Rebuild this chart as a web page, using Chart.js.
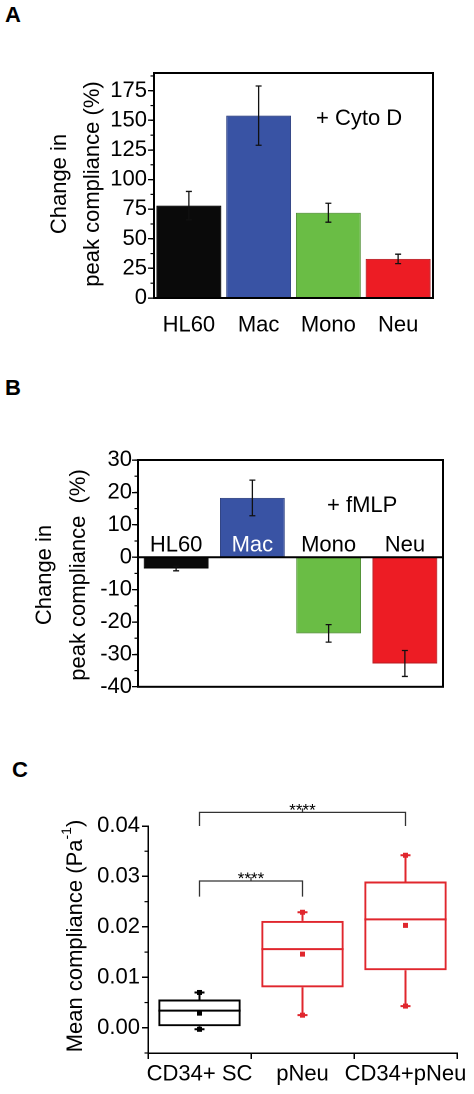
<!DOCTYPE html>
<html>
<head>
<meta charset="utf-8">
<script src="https://cdn.jsdelivr.net/npm/chart.js@4"></script>
<style>
  body { margin: 0; background: #fff; width: 474px; height: 1094px; position: relative; overflow: hidden; font-family: "Liberation Sans", Arial, sans-serif; }
  canvas { position: absolute; left: 0; }
  .lbl { position: absolute; font-weight: bold; font-size: 22px; }
</style>
</head>
<body>
<div class="lbl" style="left:5px;top:2px">A</div>
<div class="lbl" style="left:5px;top:375px">B</div>
<div class="lbl" style="left:12px;top:757px">C</div>
<canvas id="chartA" style="top:0px"></canvas>
<canvas id="chartB" style="top:370px"></canvas>
<canvas id="chartC" style="top:700px"></canvas>
<script>
// Painel A: + Cyto D
const cellTypes = ['HL60', 'Mac', 'Mono', 'Neu'];
const cytoValues = [78, 154, 72, 33];
const cytoErrors = [12, 25, 8, 4];
const cytoTicks = [0, 25, 50, 75, 100, 125, 150, 175];
// Painel B: + fMLP
const fmlpValues = [-3.5, 18.3, -23.5, -32.8];
const fmlpErrors = [0.7, 5.5, 2.7, 4];
// Painel C: boxplots
const groupsC = ['CD34+ SC', 'pNeu', 'CD34+pNeu'];
const q1C = [0.0003, 0.0080, 0.0114];
const q3C = [0.0056, 0.0212, 0.0290];
const medianC = [0.0034, 0.0156, 0.0215];
const meanC = [0.0029, 0.0146, 0.0203];
const whiskerLowC = [-0.0003, 0.0025, 0.0043];
const whiskerHighC = [0.0070, 0.0229, 0.0342];
const complianceTicks = [0, 0.01, 0.02, 0.03, 0.04];

const barColors = ['#0a0a0a', '#3953a4', '#6abd45', '#ed1c24'];
const boxColors = ['#000000', '#e0262d', '#e0262d'];
const FONT = '"Liberation Sans", Arial, sans-serif';
const TS = 22; // tamanho das fontes principais
Chart.defaults.font.family = FONT;
Chart.defaults.color = '#000';
Chart.defaults.animation = false;
Chart.defaults.responsive = false;
Chart.defaults.devicePixelRatio = 2;

function setupCanvas(id, h) {
    const c = document.getElementById(id);
    c.width = 474; c.height = h;
    c.style.width = '474px'; c.style.height = h + 'px';
    return c.getContext('2d');
}

function rotatedText(ctx, lines, yc, size) {
    ctx.save();
    ctx.font = size + 'px ' + FONT;
    ctx.fillStyle = '#000';
    ctx.textAlign = 'center';
    ctx.textBaseline = 'middle';
    lines.forEach(l => {
        ctx.save();
        ctx.translate(l.x, yc);
        ctx.rotate(-Math.PI / 2);
        ctx.fillText(l.text, 0, 0);
        ctx.restore();
    });
    ctx.restore();
}

function minorTicks(ctx, scale, step, from, x) {
    ctx.save();
    ctx.strokeStyle = '#000'; ctx.lineWidth = 1.2;
    for (let v = from; v <= scale.max + 1e-9; v += step) {
        const y = scale.getPixelForValue(v);
        ctx.beginPath(); ctx.moveTo(x, y); ctx.lineTo(x - 3.5, y); ctx.stroke();
    }
    ctx.restore();
}

function errorBars(ctx, chart, values, errors) {
    const meta = chart.getDatasetMeta(0);
    const y = chart.scales.y;
    ctx.save();
    ctx.strokeStyle = '#111'; ctx.lineWidth = 1.3;
    meta.data.forEach((el, i) => {
        const top = y.getPixelForValue(values[i] + errors[i]);
        const bot = y.getPixelForValue(values[i] - errors[i]);
        ctx.beginPath();
        ctx.moveTo(el.x, top); ctx.lineTo(el.x, bot);
        ctx.moveTo(el.x - 3, top); ctx.lineTo(el.x + 3, top);
        ctx.moveTo(el.x - 3, bot); ctx.lineTo(el.x + 3, bot);
        ctx.stroke();
    });
    ctx.restore();
}

// ---------- Painel A ----------
new Chart(setupCanvas('chartA', 360), {
    type: 'bar',
    data: {
        labels: cellTypes,
        datasets: [{
            data: cytoValues,
            backgroundColor: barColors,
            borderColor: ['#000', '#2c3f80', '#4f8f33', '#b81a20'],
            borderWidth: 1,
            barPercentage: 1,
            categoryPercentage: 0.93
        }]
    },
    options: {
        layout: { padding: { top: 73, right: 41 } },
        plugins: { legend: { display: false }, tooltip: { enabled: false } },
        scales: {
            x: {
                grid: { display: false },
                border: { display: false },
                ticks: { font: { size: TS }, padding: 6, maxRotation: 0 },
                afterFit: s => { s.height = 62; }
            },
            y: {
                min: 0, max: 190,
                afterBuildTicks: s => { s.ticks = cytoTicks.map(v => ({ value: v })); },
                ticks: { font: { size: TS }, padding: 1 },
                grid: { drawOnChartArea: false, tickLength: 6, color: '#000', lineWidth: 1.3 },
                border: { display: false },
                afterFit: s => { s.width = 154; }
            }
        }
    },
    plugins: [{
        id: 'decorA',
        afterDatasetsDraw(chart) {
            const ctx = chart.ctx, a = chart.chartArea;
            errorBars(ctx, chart, cytoValues, cytoErrors);
            minorTicks(ctx, chart.scales.y, 12.5, 12.5, a.left);
            ctx.save();
            ctx.strokeStyle = '#000'; ctx.lineWidth = 2;
            ctx.strokeRect(a.left, a.top, a.right - a.left, a.bottom - a.top);
            ctx.font = TS + 'px ' + FONT;
            ctx.fillStyle = '#000';
            ctx.fillText('+ Cyto D', 316, 125);
            ctx.restore();
            rotatedText(ctx, [{ text: 'Change in', x: 60 }, { text: 'peak compliance (%)', x: 93 }], 184, TS);
        }
    }]
});

// ---------- Painel B ----------
new Chart(setupCanvas('chartB', 330), {
    type: 'bar',
    data: {
        labels: cellTypes,
        datasets: [{
            data: fmlpValues,
            backgroundColor: barColors,
            borderColor: ['#000', '#2c3f80', '#4f8f33', '#b81a20'],
            borderWidth: 1,
            barPercentage: 1,
            categoryPercentage: 0.85
        }]
    },
    options: {
        layout: { padding: { top: 90, right: 31 } },
        plugins: { legend: { display: false }, tooltip: { enabled: false } },
        scales: {
            x: {
                grid: { display: false },
                border: { display: false },
                ticks: { display: false },
                afterFit: s => { s.height = 11; }
            },
            y: {
                min: -40, max: 30,
                ticks: { stepSize: 10, font: { size: TS }, padding: 0 },
                grid: { drawOnChartArea: false, tickLength: 6, color: '#000', lineWidth: 1.3 },
                border: { display: false },
                afterFit: s => { s.width = 138; }
            }
        }
    },
    plugins: [{
        id: 'decorB',
        afterDatasetsDraw(chart) {
            const ctx = chart.ctx, a = chart.chartArea, y = chart.scales.y;
            errorBars(ctx, chart, fmlpValues, fmlpErrors);
            minorTicks(ctx, y, 5, -35, a.left);
            const y0 = y.getPixelForValue(0);
            ctx.save();
            ctx.strokeStyle = '#000'; ctx.lineWidth = 2;
            ctx.strokeRect(a.left, a.top, a.right - a.left, a.bottom - a.top);
            ctx.beginPath(); ctx.moveTo(a.left, y0); ctx.lineTo(a.right, y0); ctx.stroke();
            ctx.font = TS + 'px ' + FONT;
            ctx.textAlign = 'center';
            ctx.textBaseline = 'bottom';
            chart.getDatasetMeta(0).data.forEach((el, i) => {
                ctx.fillStyle = i === 1 ? '#fff' : '#000';
                ctx.fillText(cellTypes[i], el.x, y0 - 1);
            });
            ctx.textAlign = 'left';
            ctx.textBaseline = 'alphabetic';
            ctx.fillStyle = '#000';
            ctx.fillText('+ fMLP', 327, 142);
            ctx.restore();
            rotatedText(ctx, [{ text: 'Change in', x: 45 }, { text: 'peak compliance  (%)', x: 79 }], 205, TS);
        }
    }]
});

// ---------- Painel C ----------
new Chart(setupCanvas('chartC', 394), {
    type: 'bar',
    data: {
        labels: groupsC,
        datasets: [{
            data: q1C.map((q, i) => [q, q3C[i]]),
            backgroundColor: 'rgba(255,255,255,0)',
            borderColor: boxColors,
            borderWidth: 2,
            borderSkipped: false,
            barPercentage: 0.8,
            categoryPercentage: 1
        }]
    },
    options: {
        layout: { padding: { top: 126, right: 17 } },
        plugins: { legend: { display: false }, tooltip: { enabled: false } },
        scales: {
            x: {
                grid: { drawOnChartArea: false, tickLength: 6, color: '#000', lineWidth: 1.5 },
                border: { color: '#000', width: 1.5 },
                ticks: { font: { size: TS }, padding: 2, maxRotation: 0, minRotation: 0, autoSkip: false },
                afterFit: s => { s.height = 41; }
            },
            y: {
                min: -0.005, max: 0.04,
                afterBuildTicks: s => { s.ticks = complianceTicks.map(v => ({ value: v })); },
                ticks: { font: { size: TS }, padding: 2, callback: v => v.toFixed(2) },
                grid: { drawOnChartArea: false, tickLength: 6, color: '#000', lineWidth: 1.5 },
                border: { color: '#000', width: 1.5 },
                afterFit: s => { s.width = 148; }
            }
        }
    },
    plugins: [{
        id: 'decorC',
        afterDatasetsDraw(chart) {
            const ctx = chart.ctx, a = chart.chartArea, y = chart.scales.y;
            const meta = chart.getDatasetMeta(0);
            minorTicks(ctx, y, 0.01, -0.005, a.left);
            ctx.save();
            meta.data.forEach((el, i) => {
                const x = el.x, hw = el.width / 2;
                ctx.strokeStyle = boxColors[i]; ctx.fillStyle = boxColors[i];
                ctx.lineWidth = 2;
                const yq1 = y.getPixelForValue(q1C[i]), yq3 = y.getPixelForValue(q3C[i]);
                const ylo = y.getPixelForValue(whiskerLowC[i]), yhi = y.getPixelForValue(whiskerHighC[i]);
                const ym = y.getPixelForValue(medianC[i]);
                ctx.beginPath();
                ctx.moveTo(x - hw, ym); ctx.lineTo(x + hw, ym);
                ctx.moveTo(x, yq3); ctx.lineTo(x, yhi);
                ctx.moveTo(x, yq1); ctx.lineTo(x, ylo);
                ctx.moveTo(x - 5, yhi); ctx.lineTo(x + 5, yhi);
                ctx.moveTo(x - 5, ylo); ctx.lineTo(x + 5, ylo);
                ctx.stroke();
                ctx.fillRect(x - 2.5, yhi - 2.5, 5, 5);
                ctx.fillRect(x - 2.5, ylo - 2.5, 5, 5);
                const ymean = y.getPixelForValue(meanC[i]);
                ctx.fillRect(x - 2.5, ymean - 2.5, 5, 5);
            });
            // brackets de significancia
            const bracket = (i, j, level, legL, legR) => {
                const xa = meta.data[i].x, xb = meta.data[j].x;
                const yl = y.getPixelForValue(level);
                ctx.strokeStyle = '#333'; ctx.lineWidth = 1.3;
                ctx.beginPath();
                ctx.moveTo(xa, y.getPixelForValue(legL)); ctx.lineTo(xa, yl);
                ctx.lineTo(xb, yl); ctx.lineTo(xb, y.getPixelForValue(legR));
                ctx.moveTo((xa + xb) / 2, yl); ctx.lineTo((xa + xb) / 2, yl - 4);
                ctx.stroke();
                ctx.fillStyle = '#000';
                ctx.font = '17px ' + FONT;
                ctx.textAlign = 'center';
                ctx.textBaseline = 'alphabetic';
                ctx.fillText('****', (xa + xb) / 2, yl + 3);
            };
            bracket(0, 2, 0.0427, 0.04, 0.04);
            bracket(0, 1, 0.0291, 0.026, 0.026);
            ctx.restore();
            // titulo do eixo com sobrescrito
            ctx.save();
            ctx.translate(76, 236);
            ctx.rotate(-Math.PI / 2);
            ctx.fillStyle = '#000';
            ctx.textBaseline = 'middle';
            ctx.font = TS + 'px ' + FONT;
            const main = 'Mean compliance (Pa';
            const w1 = ctx.measureText(main).width;
            ctx.font = '14px ' + FONT;
            const w2 = ctx.measureText('-1').width;
            ctx.font = TS + 'px ' + FONT;
            const w3 = ctx.measureText(')').width;
            const sx = -(w1 + w2 + w3) / 2;
            ctx.fillText(main, sx, 0);
            ctx.font = '14px ' + FONT;
            ctx.fillText('-1', sx + w1, -9);
            ctx.font = TS + 'px ' + FONT;
            ctx.fillText(')', sx + w1 + w2, 0);
            ctx.restore();
        }
    }]
});
</script>
</body>
</html>
